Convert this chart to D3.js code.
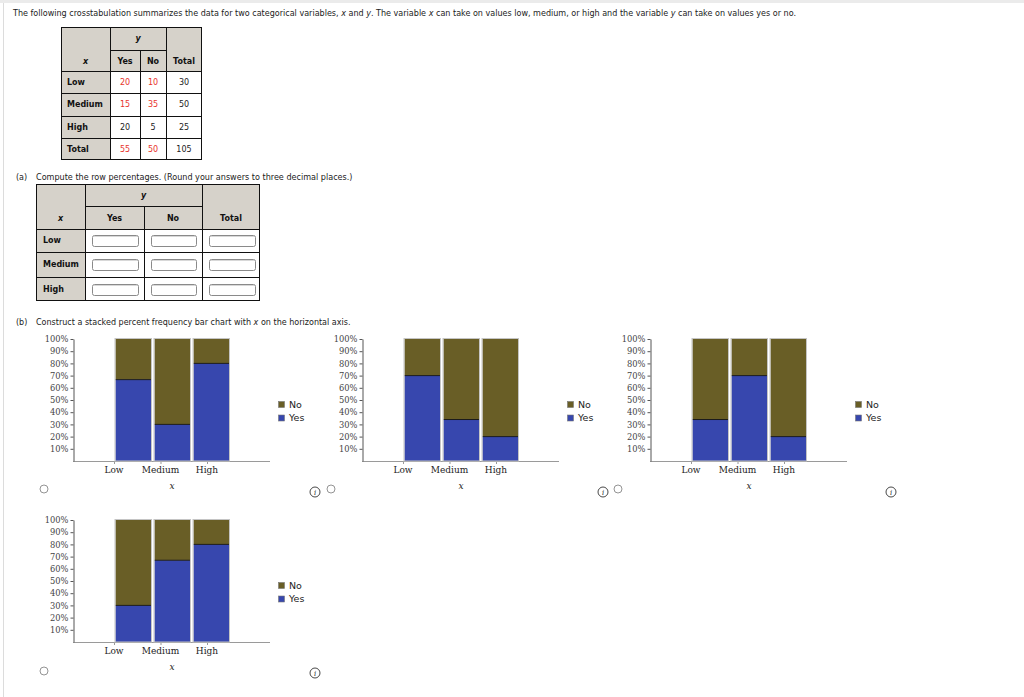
<!DOCTYPE html>
<html><head><meta charset="utf-8">
<script src="https://cdn.jsdelivr.net/npm/d3@7/dist/d3.min.js"></script>
<style>
html,body{margin:0;padding:0;background:#fff;}
svg{display:block;}
</style></head>
<body>
<svg id="c" width="1024" height="697"></svg>
<script>
// ---------- data ----------
// text pieces: [string, italic?]
const introParts = [["The following crosstabulation summarizes the data for two categorical variables, ", false], ["x", true], [" and ", false], ["y", true], [". The variable ", false], ["x", true], [" can take on values low, medium, or high and the variable ", false], ["y", true], [" can take on values yes or no.", false]];
const partAParts = [["Compute the row percentages. (Round your answers to three decimal places.)", false]];
const partBParts = [["Construct a stacked percent frequency bar chart with ", false], ["x", true], [" on the horizontal axis.", false]];

const tableRowLabels = ["Low", "Medium", "High", "Total"];
const countsYes = [20, 15, 20, 55];
const countsNo = [10, 35, 5, 50];
const countsTotal = [30, 50, 25, 105];
const redYes = [true, true, false, true];
const redNo = [true, true, false, true];

const pctRowLabels = ["Low", "Medium", "High"];

const categories = ["Low", "Medium", "High"];
const seriesNames = ["No", "Yes"];
const optionAYes = [66.7, 30, 80];
const optionANo = [33.3, 70, 20];
const optionBYes = [70, 34, 20];
const optionBNo = [30, 66, 80];
const optionCYes = [34, 70, 20];
const optionCNo = [66, 30, 80];
const optionDYes = [30, 67, 80];
const optionDNo = [70, 33, 20];

const yTickValues = [10, 20, 30, 40, 50, 60, 70, 80, 90, 100];

// ---------- styles ----------
const SANS = "'DejaVu Sans', Verdana, sans-serif";
const SERIF = "'DejaVu Serif', Georgia, serif";
const GRAY = "#d6d2ca";
const RED = "#e8332b";
const YES_C = "#3747ae";
const NO_C = "#695e26";

const svg = d3.select("#c");

// page frame
svg.append("rect").attr("x", 0).attr("y", 0).attr("width", 1024).attr("height", 3).attr("fill", "#ebebeb");
svg.append("line").attr("x1", 3.5).attr("x2", 3.5).attr("y1", 3).attr("y2", 697).attr("stroke", "#dcdcdc");

function richText(x, y, parts, targetWidth, startSize) {
  const t = svg.append("text").attr("x", x).attr("y", y).attr("dy", "0.35em")
    .attr("font-family", SANS).attr("fill", "#222").attr("font-size", startSize);
  parts.forEach(p => t.append("tspan").attr("font-style", p[1] ? "italic" : "normal").text(p[0]));
  const w = t.node().getComputedTextLength();
  t.attr("font-size", startSize * targetWidth / w);
  return t;
}

richText(13, 13, introParts, 784, 8);

// ---------- table 1 ----------
(function () {
  const g = svg.append("g");
  const L = 61, R = 202;
  const cols = [61, 110, 140, 166, 202];
  const top = 27, split = 50, hb = 71;
  const rows = [71, 93, 116, 138, 160];
  const fs = 8;
  g.append("rect").attr("x", L).attr("y", top).attr("width", R - L).attr("height", hb - top).attr("fill", GRAY);
  g.append("rect").attr("x", L).attr("y", hb).attr("width", cols[1] - L).attr("height", rows[4] - hb).attr("fill", GRAY);
  const st = "#111";
  g.append("rect").attr("x", L + 0.5).attr("y", top + 0.5).attr("width", R - L - 1).attr("height", rows[4] - top - 1)
    .attr("fill", "none").attr("stroke", st);
  [cols[1], cols[3]].forEach(x => g.append("line").attr("x1", x + 0.5).attr("x2", x + 0.5).attr("y1", top).attr("y2", rows[4]).attr("stroke", st));
  g.append("line").attr("x1", cols[2] + 0.5).attr("x2", cols[2] + 0.5).attr("y1", split).attr("y2", rows[4]).attr("stroke", st);
  g.append("line").attr("x1", cols[1]).attr("x2", cols[3]).attr("y1", split + 0.5).attr("y2", split + 0.5).attr("stroke", st);
  rows.slice(0, 4).forEach(y => g.append("line").attr("x1", L).attr("x2", R).attr("y1", y + 0.5).attr("y2", y + 0.5).attr("stroke", st));
  const t = (x, y, s, opt = {}) => g.append("text").attr("x", x).attr("y", y).attr("dy", "0.35em")
    .attr("text-anchor", opt.anchor || "middle").attr("font-family", SANS).attr("font-size", fs)
    .attr("font-weight", opt.bold ? "bold" : "normal").attr("font-style", opt.italic ? "italic" : "normal")
    .attr("fill", opt.fill || "#111").text(s);
  t((cols[0] + cols[1]) / 2, 61, "x", { bold: true, italic: true });
  t((cols[1] + cols[3]) / 2, 38.5, "y", { bold: true, italic: true });
  t((cols[1] + cols[2]) / 2, 61, "Yes", { bold: true });
  t((cols[2] + cols[3]) / 2, 61, "No", { bold: true });
  t((cols[3] + cols[4]) / 2, 61, "Total", { bold: true });
  tableRowLabels.forEach((lab, i) => {
    const cy = (rows[i] + rows[i + 1]) / 2;
    t(67, cy, lab, { bold: true, anchor: "start" });
    t((cols[1] + cols[2]) / 2, cy, countsYes[i], { fill: redYes[i] ? RED : "#222" });
    t((cols[2] + cols[3]) / 2, cy, countsNo[i], { fill: redNo[i] ? RED : "#222" });
    t((cols[3] + cols[4]) / 2, cy, countsTotal[i], { fill: "#222" });
  });
})();

// part (a)
svg.append("text").attr("x", 16).attr("y", 177).attr("dy", "0.35em").attr("font-family", SANS).attr("font-size", 8).attr("fill", "#222").text("(a)");
richText(36, 177, partAParts, 317, 8);

// ---------- table 2 ----------
(function () {
  const g = svg.append("g");
  const cols = [36, 85, 144, 202, 260];
  const top = 184, split = 206, hb = 229;
  const rows = [229, 252, 277, 301];
  const L = cols[0], R = cols[4];
  const fs = 8;
  g.append("rect").attr("x", L).attr("y", top).attr("width", R - L).attr("height", hb - top).attr("fill", GRAY);
  g.append("rect").attr("x", L).attr("y", hb).attr("width", cols[1] - L).attr("height", rows[3] - hb).attr("fill", GRAY);
  const st = "#111";
  g.append("rect").attr("x", L + 0.5).attr("y", top + 0.5).attr("width", R - L - 1).attr("height", rows[3] - top - 1)
    .attr("fill", "none").attr("stroke", st);
  [cols[1], cols[3]].forEach(x => g.append("line").attr("x1", x + 0.5).attr("x2", x + 0.5).attr("y1", top).attr("y2", rows[3]).attr("stroke", st));
  g.append("line").attr("x1", cols[2] + 0.5).attr("x2", cols[2] + 0.5).attr("y1", split).attr("y2", rows[3]).attr("stroke", st);
  g.append("line").attr("x1", cols[1]).attr("x2", cols[3]).attr("y1", split + 0.5).attr("y2", split + 0.5).attr("stroke", st);
  rows.slice(0, 3).forEach(y => g.append("line").attr("x1", L).attr("x2", R).attr("y1", y + 0.5).attr("y2", y + 0.5).attr("stroke", st));
  const t = (x, y, s, opt = {}) => g.append("text").attr("x", x).attr("y", y).attr("dy", "0.35em")
    .attr("text-anchor", opt.anchor || "middle").attr("font-family", SANS).attr("font-size", fs)
    .attr("font-weight", opt.bold ? "bold" : "normal").attr("font-style", opt.italic ? "italic" : "normal")
    .attr("fill", "#111").text(s);
  t((cols[0] + cols[1]) / 2, 218, "x", { bold: true, italic: true });
  t((cols[1] + cols[3]) / 2, 195.5, "y", { bold: true, italic: true });
  t((cols[1] + cols[2]) / 2, 218, "Yes", { bold: true });
  t((cols[2] + cols[3]) / 2, 218, "No", { bold: true });
  t((cols[3] + cols[4]) / 2, 218, "Total", { bold: true });
  const boxes = [[92, 138], [151, 196], [209, 255]];
  pctRowLabels.forEach((lab, i) => {
    const cy = (rows[i] + rows[i + 1]) / 2;
    t(43, cy, lab, { bold: true, anchor: "start" });
    boxes.forEach(b => {
      g.append("rect").attr("x", b[0] + 0.5).attr("y", Math.round(cy - 5.5) + 0.5).attr("width", b[1] - b[0]).attr("height", 11)
        .attr("rx", 2).attr("fill", "#fff").attr("stroke", "#8a8a8a");
      g.append("line").attr("x1", b[0] + 2).attr("x2", b[1] - 1).attr("y1", Math.round(cy - 5.5) + 1.5).attr("y2", Math.round(cy - 5.5) + 1.5)
        .attr("stroke", "#d8d8d8");
    });
  });
})();

// part (b)
svg.append("text").attr("x", 16).attr("y", 322.5).attr("dy", "0.35em").attr("font-family", SANS).attr("font-size", 8).attr("fill", "#222").text("(b)");
richText(36, 322.5, partBParts, 315, 8);

// ---------- charts ----------
function drawChart(ax, topY, yesVals, noVals, radioX, radioY, infoX, infoY) {
  const g = svg.append("g");
  const axisLen = 197;
  const bottomY = topY + 122;
  const y = d3.scaleLinear().domain([0, 100]).range([bottomY, topY]);
  const xb = d3.scaleBand().domain(categories).range([ax + 42.5, ax + 156]).paddingInner(0.09);
  const xl = d3.scalePoint().domain(categories).range([ax + 41, ax + 134]);

  g.append("line").attr("x1", ax).attr("x2", ax + axisLen).attr("y1", bottomY + 0.5).attr("y2", bottomY + 0.5).attr("stroke", "#9a9a9a");
  categories.forEach(c => g.append("line").attr("x1", xl(c) + 0.5).attr("x2", xl(c) + 0.5)
    .attr("y1", bottomY).attr("y2", bottomY + 3).attr("stroke", "#9a9a9a"));

  categories.forEach((c, i) => {
    const x0 = xb(c), w = xb.bandwidth();
    const yTop = y(yesVals[i] + noVals[i]), ySplit = y(yesVals[i]);
    g.append("rect").attr("x", x0).attr("y", yTop).attr("width", w).attr("height", ySplit - yTop).attr("fill", NO_C);
    g.append("rect").attr("x", x0).attr("y", ySplit).attr("width", w).attr("height", bottomY - ySplit).attr("fill", YES_C);
    g.append("line").attr("x1", x0).attr("x2", x0 + w).attr("y1", ySplit).attr("y2", ySplit).attr("stroke", "#1a1a1a").attr("stroke-width", 1);
    g.append("rect").attr("x", x0 - 0.5).attr("y", yTop - 0.5).attr("width", w + 1).attr("height", bottomY - yTop + 0.5)
      .attr("fill", "none").attr("stroke", "#c4c4c4").attr("stroke-width", 1);
  });

  const yAxis = d3.axisLeft(y).tickValues(yTickValues).tickFormat(d => d + "%").tickSize(3).tickSizeOuter(0).tickPadding(2);
  const ya = g.append("g").attr("transform", `translate(${ax + 0.5},0)`).call(yAxis);
  ya.select(".domain").attr("stroke", "#555");
  ya.selectAll(".tick line").attr("stroke", "#555");
  ya.selectAll(".tick text").attr("font-family", SERIF).attr("font-size", 8.3).attr("fill", "#444");

  categories.forEach(c => g.append("text").attr("x", xl(c)).attr("y", bottomY + 8.5).attr("dy", "0.35em")
    .attr("text-anchor", "middle").attr("font-family", SERIF).attr("font-size", 9).attr("fill", "#222").text(c));
  g.append("text").attr("x", ax + 99).attr("y", bottomY + 25).attr("dy", "0.35em").attr("text-anchor", "middle")
    .attr("font-family", SERIF).attr("font-style", "italic").attr("font-size", 9).attr("fill", "#222").text("x");

  const legColors = { "No": NO_C, "Yes": YES_C };
  seriesNames.forEach((s, i) => {
    const ly = topY + 65 + i * 13.5;
    g.append("rect").attr("x", ax + 205.5).attr("y", ly - 2.5).attr("width", 6).attr("height", 6).attr("fill", legColors[s])
      .attr("stroke", "#777").attr("stroke-width", 0.6);
    g.append("text").attr("x", ax + 216).attr("y", ly + 0.5).attr("dy", "0.35em").attr("font-family", SANS)
      .attr("font-size", 9.5).attr("fill", "#222").text(s);
  });

  g.append("circle").attr("cx", radioX).attr("cy", radioY).attr("r", 4).attr("fill", "#fff").attr("stroke", "#888").attr("stroke-width", 0.9);
  g.append("circle").attr("cx", infoX).attr("cy", infoY).attr("r", 5).attr("fill", "#fff").attr("stroke", "#333").attr("stroke-width", 0.9);
  g.append("text").attr("x", infoX).attr("y", infoY + 0.3).attr("dy", "0.35em").attr("text-anchor", "middle")
    .attr("font-family", SERIF).attr("font-style", "italic").attr("font-size", 7).attr("fill", "#222").text("i");
}

drawChart(73, 339, optionAYes, optionANo, 44, 489, 315, 492);
drawChart(362, 339, optionBYes, optionBNo, 331, 489, 603, 492);
drawChart(650, 339, optionCYes, optionCNo, 618, 489, 891, 492);
drawChart(73, 520, optionDYes, optionDNo, 44, 671, 315, 673);
</script>
</body></html>
